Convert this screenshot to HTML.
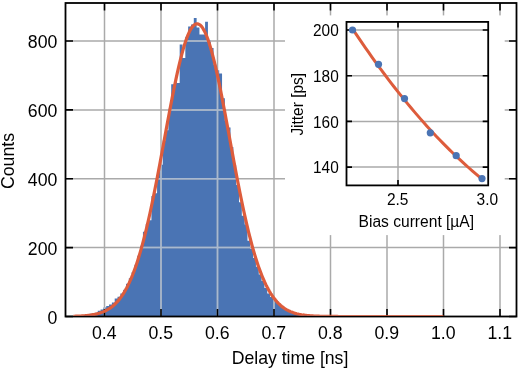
<!DOCTYPE html>
<html lang="en"><head><meta charset="utf-8"><title>Delay time histogram</title>
<style>html,body{margin:0;padding:0;background:#fff;overflow:hidden}svg{display:block}</style></head>
<body>
<svg width="520" height="370" viewBox="0 0 520 370" font-family="&quot;Liberation Sans&quot;, sans-serif" fill="#000">
<rect width="520" height="370" fill="#fff"/>
<path d="M69.50,316.5V316.36H72.33V316.10H75.15V315.85H77.98V315.84H80.80V315.70H83.63V315.09H86.45V314.45H89.28V313.63H92.10V313.55H94.93V312.68H97.75V310.80H100.58V309.56H103.40V307.48H106.23V305.96H109.05V304.57H111.88V302.39H114.70V298.39H117.53V296.72H120.35V293.60H123.18V289.84H126.00V283.87H128.82V278.22H131.65V272.33H134.47V264.64H137.30V255.83H140.12V245.81H142.95V231.83H145.78V224.10H148.60V220.36H151.43V195.93H154.25V193.27H157.07V171.98H159.90V164.71H162.72V140.62H165.55V130.36H168.38V108.75H171.20V84.37H174.03V81.96H176.85V83.00H179.68V44.50H182.50V58.00H185.32V37.00H188.15V26.50H190.97V24.40H193.80V18.00H196.62V27.50H199.45V34.50H202.28V34.50H205.10V21.80H207.93V40.00H210.75V48.08H213.57V64.52H216.40V70.18H219.22V73.50H222.05V98.34H224.88V120.96H227.70V127.45H230.53V147.00H233.35V165.13H236.18V185.02H239.00V202.35H241.82V215.85H244.65V224.57H247.47V240.87H250.30V248.64H253.12V258.01H255.95V266.84H258.78V274.42H261.60V281.05H264.43V288.05H267.25V293.56H270.07V296.90H272.90V299.34H275.73V301.51H278.55V304.79H281.38V306.98H284.20V309.06H287.03V310.63H289.85V311.80H292.68V312.51H295.50V312.98H298.32V314.54H301.15V315.16H303.98V314.79H306.80V315.53H309.62V315.60H312.45V315.83H315.28V316.34H318.10V316.50H320.93V316.50H323.75V316.50H326.57V316.50H329.40V316.50H332.23V316.50H335.05V316.50H337.88V316.50H340.70V316.50H343.53V316.50H346.35V316.50H349.18V316.50H352.00V316.50H354.82V316.50H357.65V316.50H360.48V316.50H363.30V316.50H366.12V316.50H368.95V316.5Z" fill="#4a74b4"/>
<line x1="104.50" x2="104.50" y1="3.0" y2="316.5" stroke="#aaaaaa" stroke-width="1.5"/>
<line x1="161.00" x2="161.00" y1="3.0" y2="316.5" stroke="#aaaaaa" stroke-width="1.5"/>
<line x1="217.50" x2="217.50" y1="3.0" y2="316.5" stroke="#aaaaaa" stroke-width="1.5"/>
<line x1="274.00" x2="274.00" y1="3.0" y2="316.5" stroke="#aaaaaa" stroke-width="1.5"/>
<line x1="330.50" x2="330.50" y1="3.0" y2="316.5" stroke="#aaaaaa" stroke-width="1.5"/>
<line x1="387.00" x2="387.00" y1="3.0" y2="316.5" stroke="#aaaaaa" stroke-width="1.5"/>
<line x1="443.50" x2="443.50" y1="3.0" y2="316.5" stroke="#aaaaaa" stroke-width="1.5"/>
<line x1="500.00" x2="500.00" y1="3.0" y2="316.5" stroke="#aaaaaa" stroke-width="1.5"/>
<line x1="65.5" x2="516.5" y1="247.62" y2="247.62" stroke="#aaaaaa" stroke-width="1.5"/>
<line x1="65.5" x2="516.5" y1="178.75" y2="178.75" stroke="#aaaaaa" stroke-width="1.5"/>
<line x1="65.5" x2="516.5" y1="109.88" y2="109.88" stroke="#aaaaaa" stroke-width="1.5"/>
<line x1="65.5" x2="516.5" y1="41.00" y2="41.00" stroke="#aaaaaa" stroke-width="1.5"/>
<clipPath id="h"><path d="M69.50,316.5V316.36H72.33V316.10H75.15V315.85H77.98V315.84H80.80V315.70H83.63V315.09H86.45V314.45H89.28V313.63H92.10V313.55H94.93V312.68H97.75V310.80H100.58V309.56H103.40V307.48H106.23V305.96H109.05V304.57H111.88V302.39H114.70V298.39H117.53V296.72H120.35V293.60H123.18V289.84H126.00V283.87H128.82V278.22H131.65V272.33H134.47V264.64H137.30V255.83H140.12V245.81H142.95V231.83H145.78V224.10H148.60V220.36H151.43V195.93H154.25V193.27H157.07V171.98H159.90V164.71H162.72V140.62H165.55V130.36H168.38V108.75H171.20V84.37H174.03V81.96H176.85V83.00H179.68V44.50H182.50V58.00H185.32V37.00H188.15V26.50H190.97V24.40H193.80V18.00H196.62V27.50H199.45V34.50H202.28V34.50H205.10V21.80H207.93V40.00H210.75V48.08H213.57V64.52H216.40V70.18H219.22V73.50H222.05V98.34H224.88V120.96H227.70V127.45H230.53V147.00H233.35V165.13H236.18V185.02H239.00V202.35H241.82V215.85H244.65V224.57H247.47V240.87H250.30V248.64H253.12V258.01H255.95V266.84H258.78V274.42H261.60V281.05H264.43V288.05H267.25V293.56H270.07V296.90H272.90V299.34H275.73V301.51H278.55V304.79H281.38V306.98H284.20V309.06H287.03V310.63H289.85V311.80H292.68V312.51H295.50V312.98H298.32V314.54H301.15V315.16H303.98V314.79H306.80V315.53H309.62V315.60H312.45V315.83H315.28V316.34H318.10V316.50H320.93V316.50H323.75V316.50H326.57V316.50H329.40V316.50H332.23V316.50H335.05V316.50H337.88V316.50H340.70V316.50H343.53V316.50H346.35V316.50H349.18V316.50H352.00V316.50H354.82V316.50H357.65V316.50H360.48V316.50H363.30V316.50H366.12V316.50H368.95V316.5Z"/></clipPath>
<path clip-path="url(#h)" d="M104.50,3.0V316.5M161.00,3.0V316.5M217.50,3.0V316.5M274.00,3.0V316.5M65.5,247.62H516.5M65.5,178.75H516.5M65.5,109.88H516.5M65.5,41.00H516.5" stroke="#a9b9cf" stroke-width="1.5" fill="none"/>
<path d="M104.50,316.5v-7.5M104.50,3.0v7.5" stroke="#000" stroke-width="1.6" fill="none"/>
<path d="M161.00,316.5v-7.5M161.00,3.0v7.5" stroke="#000" stroke-width="1.6" fill="none"/>
<path d="M217.50,316.5v-7.5M217.50,3.0v7.5" stroke="#000" stroke-width="1.6" fill="none"/>
<path d="M274.00,316.5v-7.5M274.00,3.0v7.5" stroke="#000" stroke-width="1.6" fill="none"/>
<path d="M330.50,316.5v-7.5M330.50,3.0v7.5" stroke="#000" stroke-width="1.6" fill="none"/>
<path d="M387.00,316.5v-7.5M387.00,3.0v7.5" stroke="#000" stroke-width="1.6" fill="none"/>
<path d="M443.50,316.5v-7.5M443.50,3.0v7.5" stroke="#000" stroke-width="1.6" fill="none"/>
<path d="M500.00,316.5v-7.5M500.00,3.0v7.5" stroke="#000" stroke-width="1.6" fill="none"/>
<path d="M65.5,316.50h7.5M516.5,316.50h-7.5" stroke="#000" stroke-width="1.6" fill="none"/>
<path d="M65.5,247.62h7.5M516.5,247.62h-7.5" stroke="#000" stroke-width="1.6" fill="none"/>
<path d="M65.5,178.75h7.5M516.5,178.75h-7.5" stroke="#000" stroke-width="1.6" fill="none"/>
<path d="M65.5,109.88h7.5M516.5,109.88h-7.5" stroke="#000" stroke-width="1.6" fill="none"/>
<path d="M65.5,41.00h7.5M516.5,41.00h-7.5" stroke="#000" stroke-width="1.6" fill="none"/>
<rect x="65.5" y="3.0" width="451.0" height="313.5" fill="none" stroke="#000" stroke-width="1.8"/>
<clipPath id="c"><rect x="65.5" y="3.0" width="451.0" height="312.65"/></clipPath>
<polyline clip-path="url(#c)" points="73.42,316.28 74.66,316.24 75.89,316.20 77.13,316.16 78.36,316.11 79.59,316.05 80.83,315.98 82.06,315.91 83.29,315.83 84.53,315.73 85.76,315.62 86.99,315.50 88.23,315.37 89.46,315.22 90.70,315.05 91.93,314.86 93.16,314.65 94.40,314.42 95.63,314.16 96.86,313.87 98.10,313.54 99.33,313.19 100.56,312.79 101.80,312.36 103.03,311.88 104.26,311.35 105.50,310.77 106.73,310.14 107.97,309.44 109.20,308.68 110.43,307.85 111.67,306.95 112.90,305.96 114.13,304.89 115.37,303.73 116.60,302.48 117.83,301.12 119.07,299.65 120.30,298.07 121.53,296.38 122.77,294.55 124.00,292.60 125.24,290.51 126.47,288.28 127.70,285.90 128.94,283.36 130.17,280.67 131.40,277.81 132.64,274.79 133.87,271.59 135.10,268.22 136.34,264.67 137.57,260.93 138.80,257.01 140.04,252.91 141.27,248.62 142.51,244.14 143.74,239.48 144.97,234.63 146.21,229.61 147.44,224.40 148.67,219.03 149.91,213.48 151.14,207.78 152.37,201.93 153.61,195.93 154.84,189.80 156.08,183.54 157.31,177.18 158.54,170.72 159.78,164.18 161.01,157.58 162.24,150.92 163.48,144.23 164.71,137.52 165.94,130.82 167.18,124.15 168.41,117.51 169.64,110.94 170.88,104.46 172.11,98.09 173.35,91.84 174.58,85.75 175.81,79.83 177.05,74.10 178.28,68.58 179.51,63.31 180.75,58.29 181.98,53.54 183.21,49.09 184.45,44.96 185.68,41.15 186.91,37.69 188.15,34.58 189.38,31.85 190.62,29.50 191.85,27.55 193.08,25.99 194.32,24.85 195.55,24.11 196.78,23.80 198.02,23.90 199.25,24.41 200.48,25.35 201.72,26.69 202.95,28.44 204.18,30.58 205.42,33.12 206.65,36.03 207.89,39.31 209.12,42.94 210.35,46.91 211.59,51.20 212.82,55.79 214.05,60.67 215.29,65.82 216.52,71.21 217.75,76.83 218.99,82.65 220.22,88.66 221.45,94.83 222.69,101.14 223.92,107.57 225.16,114.09 226.39,120.70 227.62,127.35 228.86,134.04 230.09,140.75 231.32,147.45 232.56,154.13 233.79,160.76 235.02,167.34 236.26,173.84 237.49,180.26 238.73,186.57 239.96,192.76 241.19,198.83 242.43,204.76 243.66,210.54 244.89,216.17 246.13,221.63 247.36,226.93 248.59,232.05 249.83,236.98 251.06,241.74 252.29,246.32 253.53,250.70 254.76,254.90 256.00,258.92 257.23,262.75 258.46,266.40 259.70,269.86 260.93,273.15 262.16,276.26 263.40,279.21 264.63,281.99 265.86,284.60 267.10,287.06 268.33,289.37 269.56,291.53 270.80,293.56 272.03,295.45 273.27,297.21 274.50,298.85 275.73,300.37 276.97,301.78 278.20,303.09 279.43,304.30 280.67,305.42 281.90,306.45 283.13,307.39 284.37,308.26 285.60,309.06 286.83,309.79 288.07,310.45 289.30,311.06 290.54,311.61 291.77,312.12 293.00,312.57 294.24,312.99 295.47,313.36 296.70,313.70 297.94,314.01 299.17,314.29 300.40,314.53 301.64,314.76 302.87,314.96 304.11,315.13 305.34,315.29 306.57,315.44 307.81,315.56 309.04,315.68 310.27,315.78 311.51,315.87 312.74,315.95 313.97,316.02 315.21,316.08 316.44,316.13 317.67,316.18 318.91,316.22 320.14,316.26 321.38,316.29 322.61,316.32 323.84,316.34 325.08,316.36 326.31,316.38 327.54,316.40 328.78,316.41 330.01,316.43 331.24,316.44 332.48,316.45 333.71,316.45 334.94,316.46 336.18,316.47 337.41,316.47 338.65,316.48 339.88,316.48 341.11,316.48 342.35,316.49 343.58,316.49 344.81,316.49 346.05,316.49 347.28,316.49 348.51,316.49 349.75,316.49 350.98,316.50 352.21,316.50 353.45,316.50 354.68,316.50 355.92,316.50 357.15,316.50 358.38,316.50 359.62,316.50 360.85,316.50 362.08,316.50 363.32,316.50 364.55,316.50 365.78,316.50 367.02,316.50 368.25,316.50 369.48,316.50 370.72,316.50 371.95,316.50 373.19,316.50 374.42,316.50 375.65,316.50 376.89,316.50 378.12,316.50 379.35,316.50 380.59,316.50 381.82,316.50 383.05,316.50 384.29,316.50 385.52,316.50 386.76,316.50 387.99,316.50 389.22,316.50 390.46,316.50 391.69,316.50 392.92,316.50 394.16,316.50 395.39,316.50 396.62,316.50 397.86,316.50 399.09,316.50 400.32,316.50 401.56,316.50 402.79,316.50 404.03,316.50 405.26,316.50 406.49,316.50 407.73,316.50 408.96,316.50 410.19,316.50 411.43,316.50 412.66,316.50 413.89,316.50 415.13,316.50 416.36,316.50 417.59,316.50 418.83,316.50 420.06,316.50 421.30,316.50 422.53,316.50 423.76,316.50 425.00,316.50 426.23,316.50 427.46,316.50 428.70,316.50 429.93,316.50 431.16,316.50 432.40,316.50 433.63,316.50 434.86,316.50 436.10,316.50 437.33,316.50 438.57,316.50 439.80,316.50 441.03,316.50 442.27,316.50 443.50,316.50" fill="none" stroke="#dd5c3c" stroke-width="3.2" stroke-linejoin="round"/>
<text transform="translate(104.2,338.6) scale(1,1.05)" font-size="17.7" text-anchor="middle">0.4</text>
<text transform="translate(160.7,338.6) scale(1,1.05)" font-size="17.7" text-anchor="middle">0.5</text>
<text transform="translate(217.2,338.6) scale(1,1.05)" font-size="17.7" text-anchor="middle">0.6</text>
<text transform="translate(273.7,338.6) scale(1,1.05)" font-size="17.7" text-anchor="middle">0.7</text>
<text transform="translate(330.2,338.6) scale(1,1.05)" font-size="17.7" text-anchor="middle">0.8</text>
<text transform="translate(386.7,338.6) scale(1,1.05)" font-size="17.7" text-anchor="middle">0.9</text>
<text transform="translate(443.2,338.6) scale(1,1.05)" font-size="17.7" text-anchor="middle">1.0</text>
<text transform="translate(499.7,338.6) scale(1,1.05)" font-size="17.7" text-anchor="middle">1.1</text>
<text transform="translate(57.3,323.8) scale(1,1.05)" font-size="17.7" text-anchor="end">0</text>
<text transform="translate(57.3,254.93) scale(1,1.05)" font-size="17.7" text-anchor="end">200</text>
<text transform="translate(57.3,186.05) scale(1,1.05)" font-size="17.7" text-anchor="end">400</text>
<text transform="translate(57.3,117.17) scale(1,1.05)" font-size="17.7" text-anchor="end">600</text>
<text transform="translate(57.3,48.3) scale(1,1.05)" font-size="17.7" text-anchor="end">800</text>
<text transform="translate(290,364.0) scale(1,1.05)" font-size="17.65" text-anchor="middle">Delay time [ns]</text>
<text transform="translate(14.3,161.0) rotate(-90) scale(1,1.05)" font-size="17.7" text-anchor="middle">Counts</text>
<rect x="285" y="15.4" width="219.7" height="219.7" fill="#fff"/>
<line x1="398.00" x2="398.00" y1="21.9" y2="185.4" stroke="#aaaaaa" stroke-width="1.5"/>
<line x1="346.5" x2="488.2" y1="167.10" y2="167.10" stroke="#aaaaaa" stroke-width="1.5"/>
<line x1="346.5" x2="488.2" y1="121.40" y2="121.40" stroke="#aaaaaa" stroke-width="1.5"/>
<line x1="346.5" x2="488.2" y1="75.70" y2="75.70" stroke="#aaaaaa" stroke-width="1.5"/>
<line x1="346.5" x2="488.2" y1="30.00" y2="30.00" stroke="#aaaaaa" stroke-width="1.5"/>
<path d="M398.00,185.4v-5.5M398.00,21.9v5.5" stroke="#000" stroke-width="1.6" fill="none"/>
<path d="M346.5,167.10h5.5M488.2,167.10h-5.5" stroke="#000" stroke-width="1.6" fill="none"/>
<path d="M346.5,121.40h5.5M488.2,121.40h-5.5" stroke="#000" stroke-width="1.6" fill="none"/>
<path d="M346.5,75.70h5.5M488.2,75.70h-5.5" stroke="#000" stroke-width="1.6" fill="none"/>
<path d="M346.5,30.00h5.5M488.2,30.00h-5.5" stroke="#000" stroke-width="1.6" fill="none"/>
<polyline points="352.50,28.76 355.74,33.62 358.98,38.42 362.21,43.16 365.45,47.84 368.69,52.47 371.93,57.05 375.16,61.56 378.40,66.02 381.64,70.43 384.88,74.77 388.11,79.07 391.35,83.30 394.59,87.48 397.82,91.60 401.06,95.66 404.30,99.67 407.54,103.63 410.77,107.52 414.01,111.36 417.25,115.14 420.49,118.87 423.73,122.54 426.96,126.15 430.20,129.71 433.44,133.21 436.68,136.66 439.91,140.04 443.15,143.38 446.39,146.65 449.62,149.87 452.86,153.03 456.10,156.14 459.34,159.19 462.57,162.18 465.81,165.12 469.05,168.00 472.29,170.82 475.52,173.59 478.76,176.30 482.00,178.95" fill="none" stroke="#dd5c3c" stroke-width="3" stroke-linecap="round"/>
<circle cx="352.5" cy="30.00" r="3.6" fill="#4a74b4"/>
<circle cx="378.5" cy="64.28" r="3.6" fill="#4a74b4"/>
<circle cx="404.5" cy="98.55" r="3.6" fill="#4a74b4"/>
<circle cx="430.3" cy="132.82" r="3.6" fill="#4a74b4"/>
<circle cx="456.2" cy="155.68" r="3.6" fill="#4a74b4"/>
<circle cx="482.0" cy="178.53" r="3.6" fill="#4a74b4"/>
<rect x="346.5" y="21.9" width="141.7" height="163.5" fill="none" stroke="#000" stroke-width="1.8"/>
<text transform="translate(338.7,173.3) scale(1,1.05)" font-size="15.4" text-anchor="end">140</text>
<text transform="translate(338.7,127.6) scale(1,1.05)" font-size="15.4" text-anchor="end">160</text>
<text transform="translate(338.7,81.9) scale(1,1.05)" font-size="15.4" text-anchor="end">180</text>
<text transform="translate(338.7,36.2) scale(1,1.05)" font-size="15.4" text-anchor="end">200</text>
<text transform="translate(397.7,205.0) scale(1,1.05)" font-size="15.5" text-anchor="middle">2.5</text>
<text transform="translate(487.3,205.0) scale(1,1.05)" font-size="15.5" text-anchor="middle">3.0</text>
<text transform="translate(416.3,227.4) scale(1,1.05)" font-size="15.6" text-anchor="middle">Bias current [µA]</text>
<text transform="translate(303.0,104.3) rotate(-90) scale(1,1.05)" font-size="15.45" text-anchor="middle">Jitter [ps]</text>
</svg>
</body></html>
